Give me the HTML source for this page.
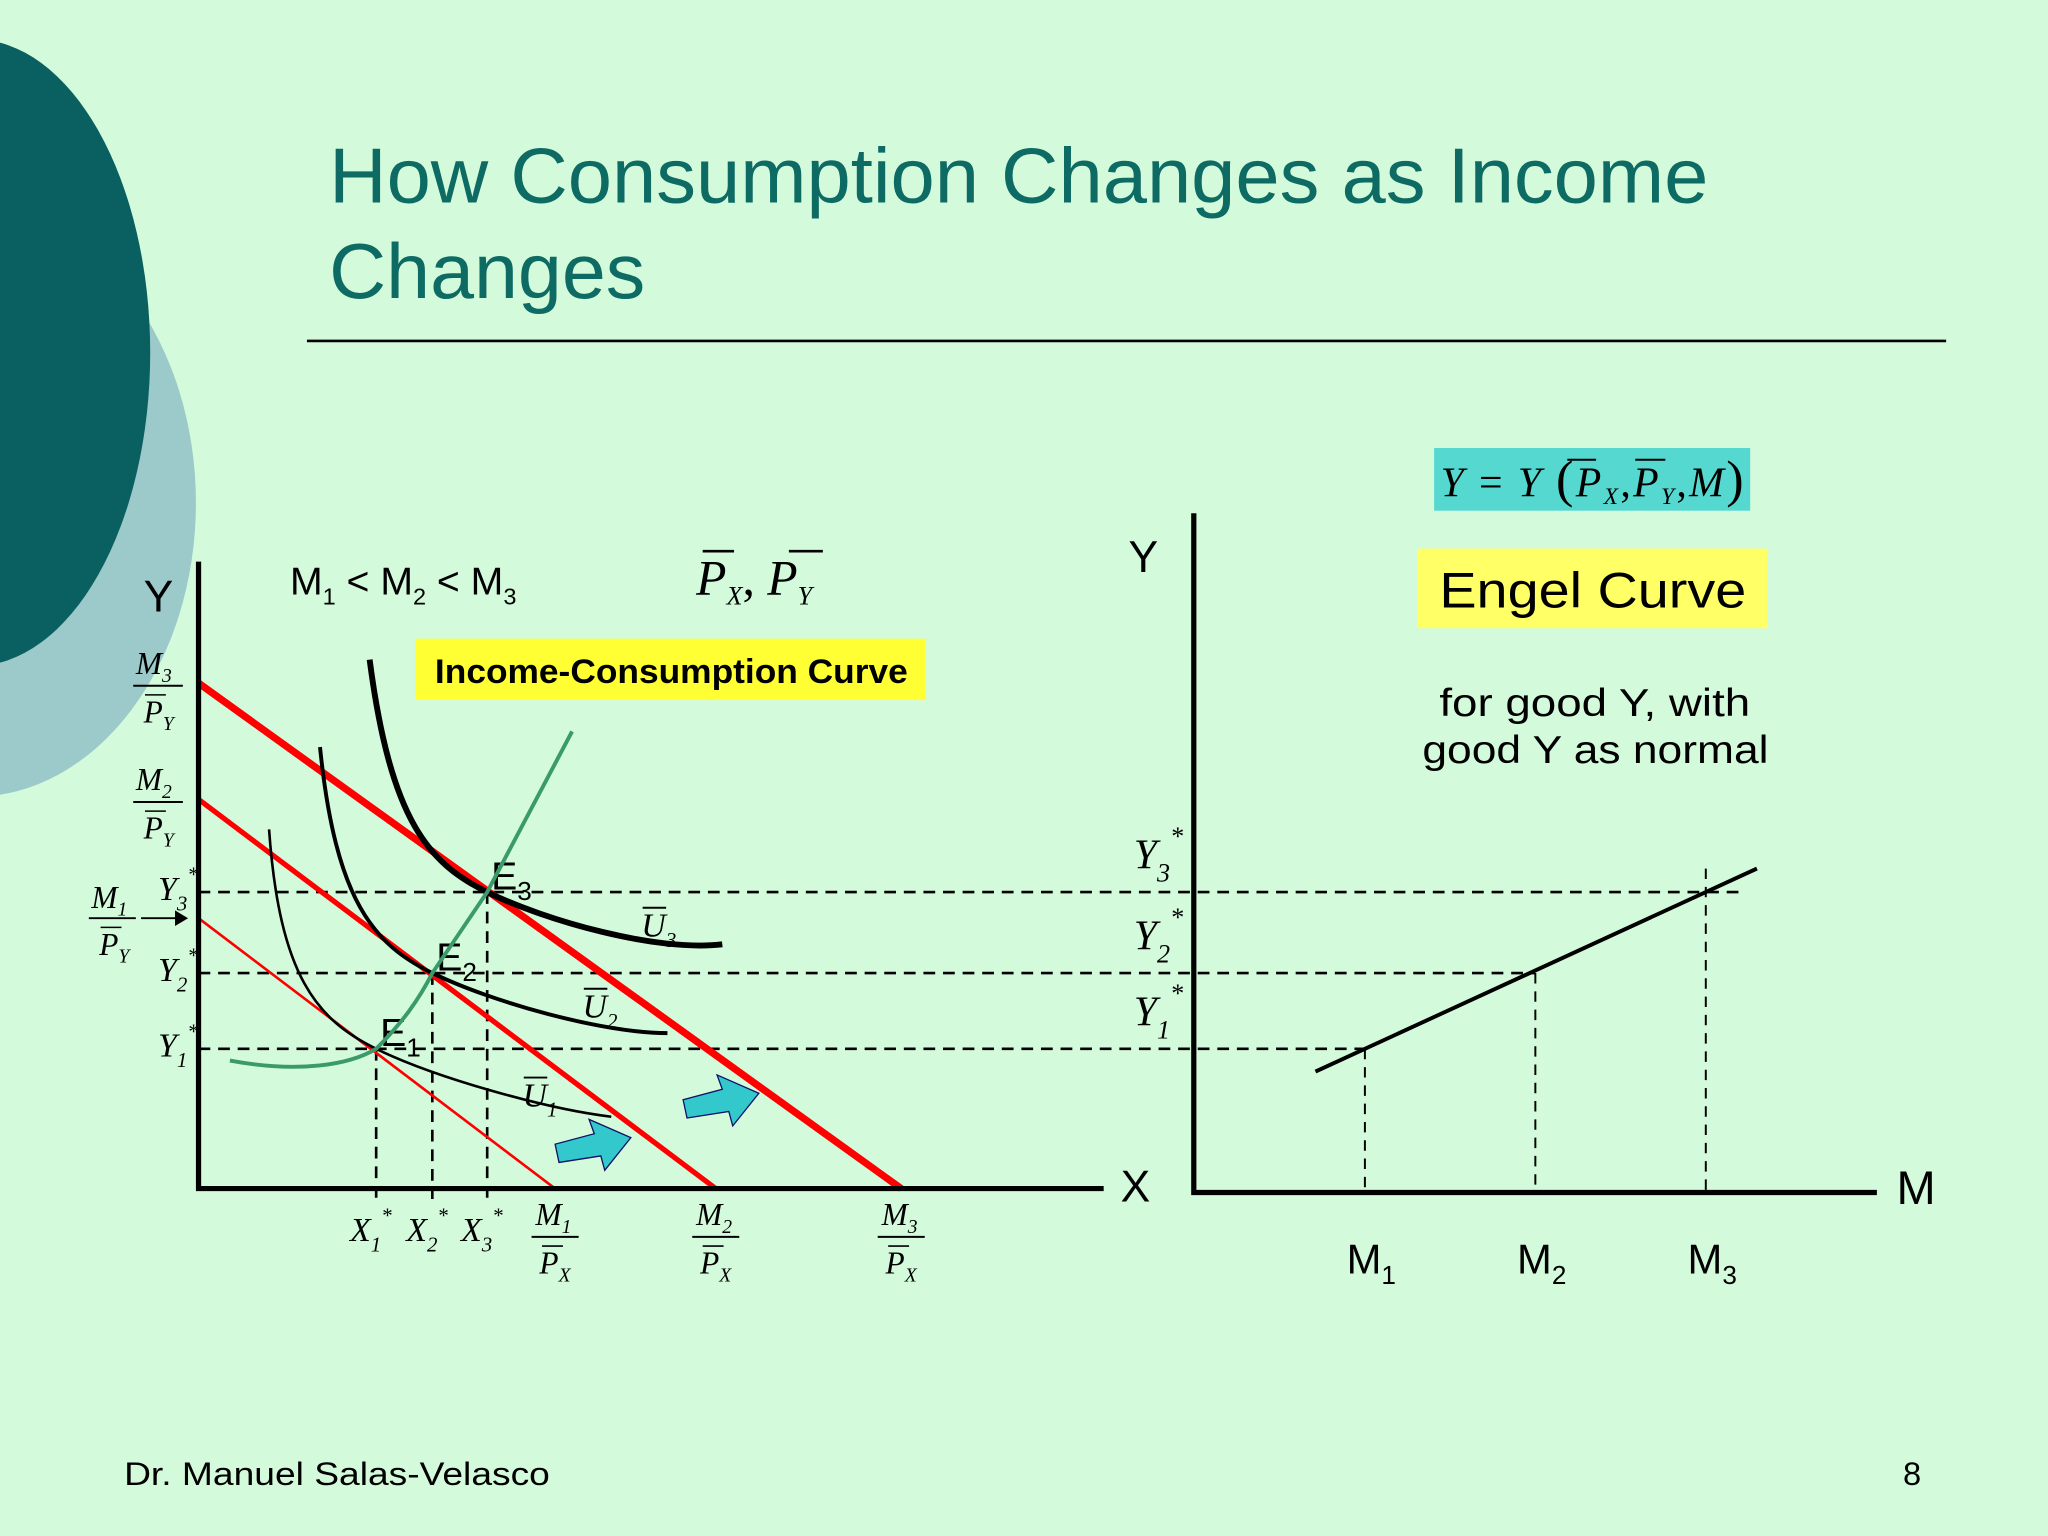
<!DOCTYPE html>
<html><head><meta charset="utf-8"><style>
html,body{margin:0;padding:0;background:#d4fadc;}
svg{display:block;}
.t{font-family:"Liberation Sans",sans-serif;}
.s{font-family:"Liberation Serif",serif;font-style:italic;}
</style></head><body>
<svg id="chart" width="2048" height="1536" viewBox="0 0 1568 1176" xmlns="http://www.w3.org/2000/svg">
<rect width="1568" height="1176" fill="#d4fadc"/>
<ellipse cx="-20" cy="385" rx="170" ry="225" fill="#9cc9c9"/>
<ellipse cx="-20" cy="270" rx="135" ry="240" fill="#0a6060"/>
<text class="t" x="252" y="155" font-size="60" fill="#0d6b64" textLength="1056" lengthAdjust="spacingAndGlyphs">How Consumption Changes as Income</text>
<text class="t" x="252" y="228" font-size="60" fill="#0d6b64" textLength="242" lengthAdjust="spacingAndGlyphs">Changes</text>
<line x1="235" y1="261" x2="1490" y2="261" stroke="#000" stroke-width="2"/>

<g id="left"></g>
<g id="right"></g>

<text class="t" x="110" y="468" font-size="34">Y</text>
<text class="t" x="858" y="920" font-size="34">X</text>
<text class="t" x="222" y="455" font-size="30">M<tspan font-size="18" dy="8">1</tspan><tspan dy="-8"> &lt; M</tspan><tspan font-size="18" dy="8">2</tspan><tspan dy="-8">   &lt; M</tspan><tspan font-size="18" dy="8">3</tspan></text>
<g>
<text class="s" x="533" y="455" font-size="38">P<tspan font-size="20" dy="8">X</tspan><tspan dy="-8" font-style="normal">, </tspan>P<tspan font-size="20" dy="8">Y</tspan></text>
<line x1="538" y1="422" x2="562" y2="422" stroke="#000" stroke-width="2"/><line x1="604" y1="422" x2="630" y2="422" stroke="#000" stroke-width="2"/>
</g>
<rect x="318" y="489" width="391" height="47" fill="#ffff33"/>
<text class="t" x="333" y="523" font-size="26" font-weight="bold" textLength="362" lengthAdjust="spacingAndGlyphs">Income-Consumption Curve</text>

<rect x="1098" y="343" width="242" height="48" fill="#55d8d0"/>
<text class="s" x="1103" y="380" font-size="32" textLength="232">Y<tspan font-style="normal"> = </tspan>Y <tspan font-style="normal" font-size="40">(</tspan>P<tspan font-size="18" dy="6">X</tspan><tspan dy="-6" font-style="normal">,</tspan>P<tspan font-size="18" dy="6">Y</tspan><tspan dy="-6" font-style="normal">,</tspan>M<tspan font-style="normal" font-size="40">)</tspan></text>
<line x1="1200" y1="352" x2="1222" y2="352" stroke="#000" stroke-width="1.5"/><line x1="1252" y1="352" x2="1275" y2="352" stroke="#000" stroke-width="1.5"/>
<rect x="1085" y="420" width="268" height="61" fill="#ffff66"/>
<text class="t" x="1102" y="465" font-size="38" textLength="235" lengthAdjust="spacingAndGlyphs">Engel Curve</text>
<text class="t" x="1102" y="548" font-size="30" textLength="238" lengthAdjust="spacingAndGlyphs">for good Y, with</text>
<text class="t" x="1089" y="584" font-size="30" textLength="265" lengthAdjust="spacingAndGlyphs">good Y as normal</text>
<text class="t" x="864" y="438" font-size="34">Y</text>
<text class="t" x="1452" y="922" font-size="36">M</text>

<text class="t" x="95" y="1137" font-size="25" textLength="326" lengthAdjust="spacingAndGlyphs">Dr. Manuel Salas-Velasco</text>
<text class="t" x="1457" y="1137" font-size="25">8</text>

<script>
const incomeLabels = ["1","2","3"];
const budgetXInt = [27.3, 39.6, 53.8];   // M/Px
const budgetYInt = [20.7, 29.8, 38.7];   // M/Py
const eqX = [13.6, 17.9, 22.1];          // X*
const eqY = [10.7, 16.5, 22.7];          // Y*
const incomes = [1, 2, 3];               // Engel M
const NS = "http://www.w3.org/2000/svg";
const xS = v => 152 + v * 10;
const yS = v => 910 - v * 10;
const mS = m => 1045 + (m - 1) * 130.5;
const L = document.getElementById('left'), R = document.getElementById('right');
function mk(p, tag, at) { const e = document.createElementNS(NS, tag); for (const k in at) e.setAttribute(k, at[k]); p.appendChild(e); return e; }
// parts: [text, fontSize or null, dy]
function txt(p, at, parts) {
  const t = mk(p, 'text', at);
  parts.forEach(([s, fs, dy]) => {
    const ts = mk(t, 'tspan', {});
    if (fs) ts.setAttribute('font-size', fs);
    if (dy) ts.setAttribute('dy', dy);
    ts.textContent = s;
  });
  return t;
}

for (let i = 0; i < 3; i++) {
  const endX = [mS(incomes[0]), mS(incomes[1]), mS(incomes[2]) + 25][i];
  let h = mk(L, 'line', {x1: xS(0), y1: yS(eqY[i]), x2: endX, y2: yS(eqY[i]), stroke: '#000', 'stroke-width': 2, 'stroke-dasharray': '9,6'});
  
  
  let v = mk(L, 'line', {x1: xS(eqX[i]), y1: yS(eqY[i]), x2: xS(eqX[i]), y2: 918, stroke: '#000', 'stroke-width': 2, 'stroke-dasharray': '9,6'});
  
  
  let rv = mk(R, 'line', {x1: mS(incomes[i]), y1: yS(eqY[i]) - (i == 2 ? 18 : 0), x2: mS(incomes[i]), y2: 912, stroke: '#000', 'stroke-width': 1.5, 'stroke-dasharray': '8,6'});
  
  
}
const bw = [2, 4, 5.5];
for (let i = 0; i < 3; i++) {
  let b = mk(L, 'line', {x1: xS(0), y1: yS(budgetYInt[i]), x2: xS(budgetXInt[i]), y2: yS(0), stroke: '#ff0000', 'stroke-width': bw[i]});
  
  
}
const ucw = [2, 3, 4.5];
for (let i = 0; i < 3; i++) {
  const ex = xS(eqX[i]), ey = yS(eqY[i]);
  const d = `M${ex-82-i*4},${ey-168-i*5} C${ex-74},${ey-55} ${ex-45},${ey-22} ${ex},${ey} S${ex+130},${ey+46} ${ex+180},${ey+52-i*6}`;
  let u = mk(L, 'path', {d: d, fill: 'none', stroke: '#000', 'stroke-width': ucw[i]});
  
  
  const ux = ex + 112 + i * 3, uy = ey + 34 + (i == 0 ? 10 : 0);
  let ul = txt(L, {x: ux, y: uy, 'font-size': 26, class: 's'}, [['U'], [incomeLabels[i], 16, 8]]);
  
  
  mk(L, 'line', {x1: ux + 1, y1: uy - 22, x2: ux + 19, y2: uy - 22, stroke: '#000', 'stroke-width': 1.5});
  let el = txt(L, {x: ex + 3, y: ey - 2, 'font-size': 30, class: 't'}, [['E'], [incomeLabels[i], 20, 8]]);
  
  
  let xl = txt(L, {x: ex - 20, y: 950, 'font-size': 26, class: 's'}, [['X'], [incomeLabels[i], 16, 8], ['*', 16, -22]]);
  
  
  let yl = txt(L, {x: 121, y: yS(eqY[i]) + 6, 'font-size': 26, class: 's'}, [['Y'], [incomeLabels[i], 16, 8], ['*', 16, -22]]);
  
  
  let ry = txt(R, {x: 868, y: yS(eqY[i]) - 18, 'font-size': 32, class: 's'}, [['Y'], [incomeLabels[i], 20, 10], ['*', 20, -28]]);
  
  
  const bx = xS(budgetXInt[i]);
  let fx = mk(L, 'g', {});
  
  
  txt(fx, {x: bx - 15, y: 938, 'font-size': 24, class: 's'}, [['M'], [incomeLabels[i], 15, 6]]);
  mk(fx, 'line', {x1: bx - 18, y1: 947, x2: bx + 18, y2: 947, stroke: '#000', 'stroke-width': 1.5});
  txt(fx, {x: bx - 12, y: 975, 'font-size': 24, class: 's'}, [['P'], ['X', 15, 6]]);
  mk(fx, 'line', {x1: bx - 10, y1: 954, x2: bx + 6, y2: 954, stroke: '#000', 'stroke-width': 1.2});
  if (i > 0) {
    const by = yS(budgetYInt[i]);
    let fy = mk(L, 'g', {});
    
    
    txt(fy, {x: 104, y: by - 7, 'font-size': 24, class: 's'}, [['M'], [incomeLabels[i], 15, 6]]);
    mk(fy, 'line', {x1: 102, y1: by + 2, x2: 140, y2: by + 2, stroke: '#000', 'stroke-width': 1.5});
    txt(fy, {x: 110, y: by + 30, 'font-size': 24, class: 's'}, [['P'], ['Y', 15, 6]]);
    mk(fy, 'line', {x1: 111, y1: by + 9, x2: 127, y2: by + 9, stroke: '#000', 'stroke-width': 1.2});
  }
  let mt = txt(R, {x: mS(incomes[i]) - 14, y: 975, 'font-size': 32, class: 't'}, [['M'], [incomeLabels[i], 20, 8]]);
  
  
}
let m1 = mk(L, 'g', {});


txt(m1, {x: 70, y: 695, 'font-size': 24, class: 's'}, [['M'], [incomeLabels[0], 15, 6]]);
mk(m1, 'line', {x1: 68, y1: 703, x2: 104, y2: 703, stroke: '#000', 'stroke-width': 1.5});
txt(m1, {x: 76, y: 731, 'font-size': 24, class: 's'}, [['P'], ['Y', 15, 6]]);
mk(m1, 'line', {x1: 77, y1: 710, x2: 93, y2: 710, stroke: '#000', 'stroke-width': 1.2});
mk(m1, 'line', {x1: 108, y1: 703, x2: 138, y2: 703, stroke: '#000', 'stroke-width': 1.5});
mk(m1, 'path', {d: 'M134,697 L144,703 L134,709 Z', fill: '#000'});
const icc = `M176,812 C230,822 ${xS(eqX[0])-20},${yS(eqY[0])+12} ${xS(eqX[0])},${yS(eqY[0])} C${xS(eqX[0])+20},${yS(eqY[0])-20} ${xS(eqX[1])-10},${yS(eqY[1])+20} ${xS(eqX[1])},${yS(eqY[1])} L${xS(eqX[2])},${yS(eqY[2])} L438,560`;
let ic = mk(L, 'path', {d: icc, fill: 'none', stroke: '#3a9a6a', 'stroke-width': 3});


[[455, 884], [553, 850]].forEach(([cx, cy], k) => {
  let a = mk(L, 'path', {d: `M${cx-27},${cy+6} L${cx-30},${cy-8} L${cx},${cy-16} L${cx-4},${cy-27} L${cx+28},${cy-13} L${cx+8},${cy+12} L${cx+5},${cy+1} Z`, fill: '#33c8cc', stroke: '#116', 'stroke-width': 1});
  
  
});
let ay = mk(L, 'path', {d: 'M152,430 L152,910 L845,910', fill: 'none', stroke: '#000', 'stroke-width': 4});


let ry2 = mk(R, 'path', {d: 'M914,393 L914,913 L1437,913', fill: 'none', stroke: '#000', 'stroke-width': 4});


const slope = (eqY[2] - eqY[0]) / (incomes[2] - incomes[0]);
const ey = m => yS(eqY[0] + slope * (m - incomes[0]));
let en = mk(R, 'line', {x1: mS(0.71), y1: ey(0.71), x2: mS(3.3), y2: ey(3.3), stroke: '#000', 'stroke-width': 3});


</script>
</svg>
</body></html>
